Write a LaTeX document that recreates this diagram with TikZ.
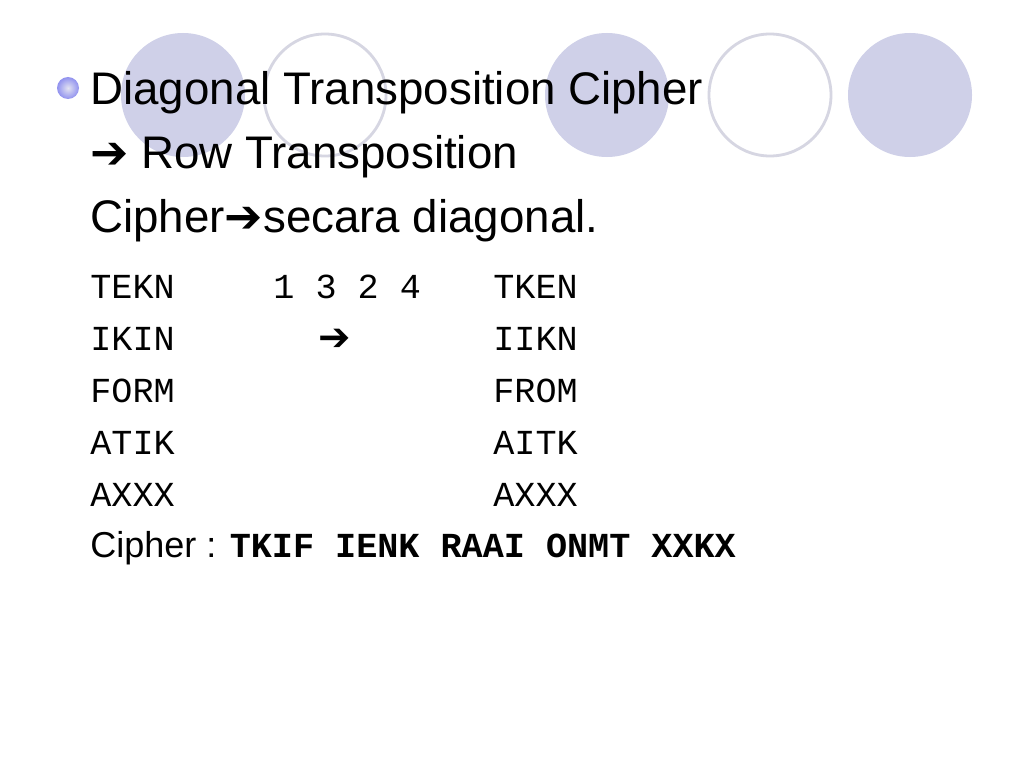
\documentclass[tikz,border=0pt]{standalone}
\usepackage{fontspec}
\setmainfont{Liberation Sans}
\setmonofont{Liberation Mono}
\newfontfamily\symfont{DejaVu Sans}
\usepackage{tikz}
\definecolor{lav}{RGB}{207,208,232}
\definecolor{ring}{RGB}{214,214,226}
\tikzset{
  big/.style={anchor=base west, inner sep=0pt, font=\fontsize{26}{30}\selectfont},
  mono/.style={anchor=base west, inner sep=0pt, font=\ttfamily\fontsize{20}{24}\selectfont},
  dot/.style={fill=lav, draw=none},
  hole/.style={fill=white, draw=ring, line width=1.6pt}
}
\newcommand{\arr}{{\symfont\char"2794}}
\begin{document}
\begin{tikzpicture}[x=0.02cm, y=-0.02cm]
        \useasboundingbox[fill=white] (0,0) rectangle (1023,767);
        % circles on top
        \foreach \x in {183,607,910}
        \fill[dot] (\x,95) circle (62);
        \foreach \x in {325,770}
        \filldraw[hole] (\x,95) circle (61);
        \shade[inner color=lav!60, outer color=lav!70!blue] (68,88) circle (11);
        % heading
        \node[big] (l1) at (90,105) {Diagonal Transposition Cipher};
        \node[big] (l2) at (90,168) {\arr\ Row Transposition};
        \node[big] (l3) at (90,232) {Cipher\arr secara diagonal.};
        % table
        \foreach \w/\v [count=\i] in {TEKN/TKEN,IKIN/IIKN,FORM/FROM,ATIK/AITK,AXXX/AXXX}{
        \node[mono] (p\i) at (90,{298+52*(\i-1)}) {\w};
        \node[mono] (c\i) at (493,{298+52*(\i-1)}) {\v};
        }
        \node[mono] (key) at (273,298) {1 3 2 4};
        \node[anchor=base west, inner sep=0pt, font=\fontsize{22}{24}\selectfont] (ka) at (318,350) {\arr};
        \node[anchor=base west, inner sep=0pt, font=\fontsize{20.5}{26}\selectfont] (res) at (90,557) {Cipher : {\ttfamily\bfseries\fontsize{20}{24}\selectfont TKIF IENK RAAI ONMT XXKX}};
\end{tikzpicture}
\end{document}
